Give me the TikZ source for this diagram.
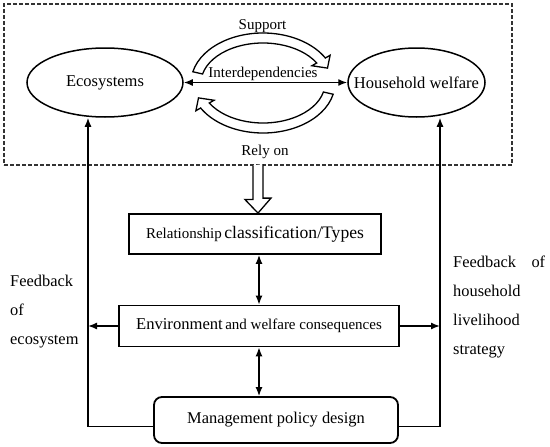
\documentclass[tikz,border=0pt]{standalone}
\usepackage{fontspec}
\setmainfont{Liberation Serif}
\usetikzlibrary{arrows.meta,calc,shapes.geometric}

\tikzset{
    box/.style={draw, line width=1.8pt, inner sep=0pt},
    oval/.style={draw, ellipse, line width=1.5pt, inner sep=0pt},
    link/.style={line width=1.4pt, -{Latex[length=9pt,width=7pt]}},
    twolink/.style={line width=1.4pt, {Latex[length=9pt,width=7pt]}-{Latex[length=9pt,width=7pt]}},
    band/.style={draw, line width=1.3pt, fill=white, line join=miter},
}
\newcommand{\bigtxt}{\fontsize{16.5}{19}\selectfont}
\newcommand{\smalltxt}{\fontsize{15}{18}\selectfont}
\newcommand{\widetxt}{\fontsize{17.6}{20}\selectfont}

\begin{document}
\begin{tikzpicture}[x=1pt,y=-1pt]
    \useasboundingbox (0,0) rectangle (550,447);

        % dashed frame with the two ovals
    \node[draw=black!80, dash pattern=on 4pt off 2pt, line width=1.1pt,
          minimum width=508pt, minimum height=161pt, inner sep=0pt] (frame) at (258,84.5) {};

    \node[oval, minimum width=156pt, minimum height=69pt] (eco) at (105,82.5) {\makebox[0pt]{\bigtxt Ecosystems}};
    \node[oval, minimum width=137pt, minimum height=69pt] (hw)  at (416.5,82.5) {\makebox[0pt]{\bigtxt Household welfare}};

    \node[font=\smalltxt] (supp)  at (262.5,26) {Support};
    \node[font=\smalltxt] (inter) at (263,74)   {Interdependencies};
    \node[font=\smalltxt] (rely)  at (265,152)  {Rely on};

    \draw[twolink] (eco.east) -- (hw.west);

        % hollow round arrows
    \coordinate (hub) at (263,83);
    \draw[band] ($(hub)+(193:72 and 50)$) arc[start angle=193, end angle=330, x radius=72, y radius=50]
        -- ($(hub)+(67.1,-27.75)$) -- ($(hub)+(64.5,-14.9)$) -- ($(hub)+(48.9,-17.25)$)
        -- ($(hub)+(330:62 and 40)$) arc[start angle=330, end angle=193, x radius=62, y radius=40] -- cycle;
    \draw[band] ($(hub)+(13:72 and 50)$) arc[start angle=13, end angle=150, x radius=72, y radius=50]
        -- ($(hub)+(-67.1,27.75)$) -- ($(hub)+(-64.5,14.9)$) -- ($(hub)+(-48.9,17.25)$)
        -- ($(hub)+(150:62 and 40)$) arc[start angle=150, end angle=13, x radius=62, y radius=40] -- cycle;

        % boxes
    \node[box, minimum width=252pt, minimum height=40pt] (rel) at (255,234)
        {{\smalltxt Relationship} {\widetxt classification/Types}};
    \node[box, minimum width=280pt, minimum height=41pt] (env) at (259,326)
        {{\fontsize{16.6}{19}\selectfont Environment} {\smalltxt and welfare consequences}};
    \node[box, rounded corners=8pt, minimum width=244pt, minimum height=46pt] (mgmt) at (276,420)
        {\fontsize{16.4}{19}\selectfont Management policy design};

        % hollow arrow down
    \draw[band] ($(frame.south)+(-5,0)$) -- ++(0,34) -- ++(-8,0) -- (frame.south |- rel.north)
        -- ++(13,-15) -- ++(-8,0) -- ++(0,-34);

    \draw[twolink] (rel.south -| env.north) -- (env.north);
    \draw[twolink] (env.south) -- (env.south |- mgmt.north);

        % feedback loops
    \coordinate (lturn) at (88,426.5);
    \coordinate (rturn) at (440,426.5);
    \draw[link] (mgmt.west |- lturn) -- (lturn) -- (lturn |- eco.south);
    \draw[link] (mgmt.east |- rturn) -- (rturn) -- (rturn |- hw.south);
    \draw[link] (env.west) -- (env.west -| lturn);
    \draw[link] (env.east) -- (env.east -| rturn);

    \node[font=\fontsize{16.4}{29}\selectfont, align=left, anchor=west, inner sep=0pt] (fbeco) at (10,312)
        {Feedback\\of\\ecosystem};
    \node[font=\fontsize{16.4}{29}\selectfont, text width=92pt, align=left, anchor=west, inner sep=0pt] (fbhh) at (453,307)
        {Feedback\hfill of\\household\\livelihood\\strategy};
\end{tikzpicture}
\end{document}
